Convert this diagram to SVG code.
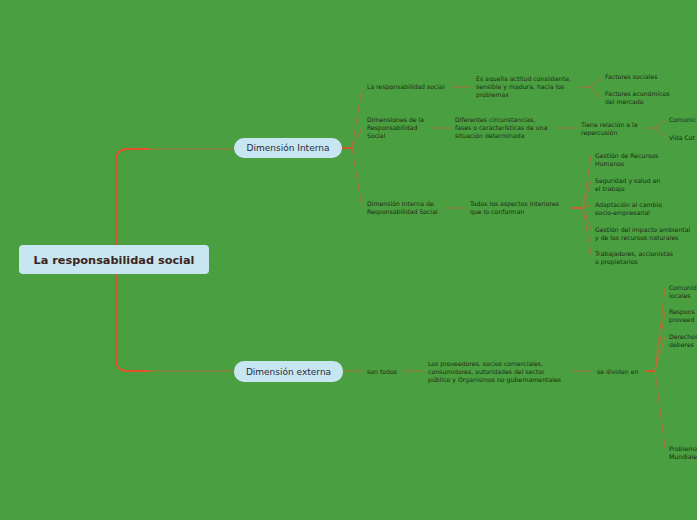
<svg xmlns="http://www.w3.org/2000/svg" width="697" height="520" viewBox="0 0 697 520">
<style>
.t{font-family:"DejaVu Sans",Verdana,sans-serif;font-size:6.2px;fill:#1e2a14}
.p{font-family:"DejaVu Sans",Verdana,sans-serif;font-size:9px;fill:#2a2a3a}
.c{fill:none;stroke:#c8673a;stroke-width:0.8}
.k{fill:none;stroke:#e4502c;stroke-width:1.8}
.n{fill:#c8e6f1}
</style>
<rect width="697" height="520" fill="#4aa040"/>
<g id="connectors">
<path class="k" d="M116,258 V160 Q116,149 128,149 H150"/>
<path class="c" d="M150,149 H234"/>
<path class="k" d="M116,262 V360 Q116,371 128,371 H150"/>
<path class="c" d="M150,371 H234"/>
<path class="k" d="M342,148 H352" stroke-width="1.2"/>
<path class="c" d="M352,148 L362,88 M352,148 L362,128 M352,148 L362,208"/>
<path class="c" d="M451,87 H472 M431,128 H451 M557,128 H577 M445,208 H465"/>
<path class="c" d="M580,87 H590 L602,77 M590,87 L602,99"/>
<path class="c" d="M645,128 H655 L666,120 M655,128 L666,137"/>
<path class="k" d="M571,208 H583" stroke-width="1.2"/>
<path class="c" d="M583,208 L591,156 M583,208 L591,181 M583,208 L591,205 M583,208 L591,230 M583,208 L591,254"/>
<path class="c" d="M343,371 H363 M403,371 H423 M572,371 H592"/>
<path class="k" d="M645,371 H655" stroke-width="1.2"/>
<path class="c" d="M655,371 L665,288 M655,371 L665,312 M655,371 L665,337 M655,371 L665,448"/>
</g>
<g id="root">
<rect class="n" x="19" y="245" width="190" height="29" rx="4"/>
<text x="114" y="264" text-anchor="middle" font-family="DejaVu Sans,Verdana,sans-serif" font-weight="bold" font-size="11.3" fill="#3a2420">La responsabilidad social</text>
</g>
<g id="dim-interna">
<rect class="n" x="234" y="138" width="108" height="20" rx="10"/>
<text class="p" x="288" y="151" text-anchor="middle">Dimensión Interna</text>
</g>
<g id="dim-externa">
<rect class="n" x="234" y="361" width="109" height="21" rx="10"/>
<text class="p" x="288.5" y="374.5" text-anchor="middle">Dimensión externa</text>
</g>
<g id="n1"><text class="t" x="367" y="89">La responsabilidad social</text></g>
<g id="n2"><text class="t" x="476" y="81">Es aquella actitud consistente,<tspan x="476" dy="8">sensible y madura, hacia los</tspan><tspan x="476" dy="8">problemas</tspan></text></g>
<g id="n3"><text class="t" x="605" y="79">Factores sociales</text></g>
<g id="n4"><text class="t" x="605" y="96">Factores económicos<tspan x="605" dy="8">del mercado</tspan></text></g>
<g id="n5"><text class="t" x="367" y="122">Dimensiones de la<tspan x="367" dy="8">Responsabilidad</tspan><tspan x="367" dy="8">Social</tspan></text></g>
<g id="n6"><text class="t" x="455" y="122">Diferentes circunstancias,<tspan x="455" dy="8">fases o características de una</tspan><tspan x="455" dy="8">situación determinada</tspan></text></g>
<g id="n7"><text class="t" x="581" y="127">Tiene relación a la<tspan x="581" dy="8">repercusión</tspan></text></g>
<g id="n8"><text class="t" x="669" y="122">Comunic</text></g>
<g id="n9"><text class="t" x="669" y="140">Vida Cot</text></g>
<g id="n10"><text class="t" x="367" y="206">Dimensión Interna de<tspan x="367" dy="8">Responsabilidad Social</tspan></text></g>
<g id="n11"><text class="t" x="470" y="206">Todos los aspectos interiores<tspan x="470" dy="8">que lo conforman</tspan></text></g>
<g id="n12"><text class="t" x="595" y="158">Gestión de Recursos<tspan x="595" dy="8">Humanos</tspan></text></g>
<g id="n13"><text class="t" x="595" y="183">Seguridad y salud en<tspan x="595" dy="8">el trabajo</tspan></text></g>
<g id="n14"><text class="t" x="595" y="207">Adaptación al cambio<tspan x="595" dy="8">socio-empresarial</tspan></text></g>
<g id="n15"><text class="t" x="595" y="232">Gestión del impacto ambiental<tspan x="595" dy="8">y de los recursos naturales</tspan></text></g>
<g id="n16"><text class="t" x="595" y="256">Trabajadores, accionistas<tspan x="595" dy="8">o propietarios</tspan></text></g>
<g id="n17"><text class="t" x="367" y="374">son todos</text></g>
<g id="n18"><text class="t" x="428" y="366">Los proveedores, socios comerciales,<tspan x="428" dy="8">consumidores, autoridades del sector</tspan><tspan x="428" dy="8">público y Organismos no gubernamentales</tspan></text></g>
<g id="n19"><text class="t" x="597" y="374">se dividen en</text></g>
<g id="n20"><text class="t" x="669" y="290">Comunid<tspan x="669" dy="8">locales</tspan></text></g>
<g id="n21"><text class="t" x="669" y="314">Respons<tspan x="669" dy="8">proveed</tspan></text></g>
<g id="n22"><text class="t" x="669" y="339">Derechos<tspan x="669" dy="8">deberes</tspan></text></g>
<g id="n23"><text class="t" x="669" y="451">Problema<tspan x="669" dy="8">Mundiale</tspan></text></g>
</svg>
